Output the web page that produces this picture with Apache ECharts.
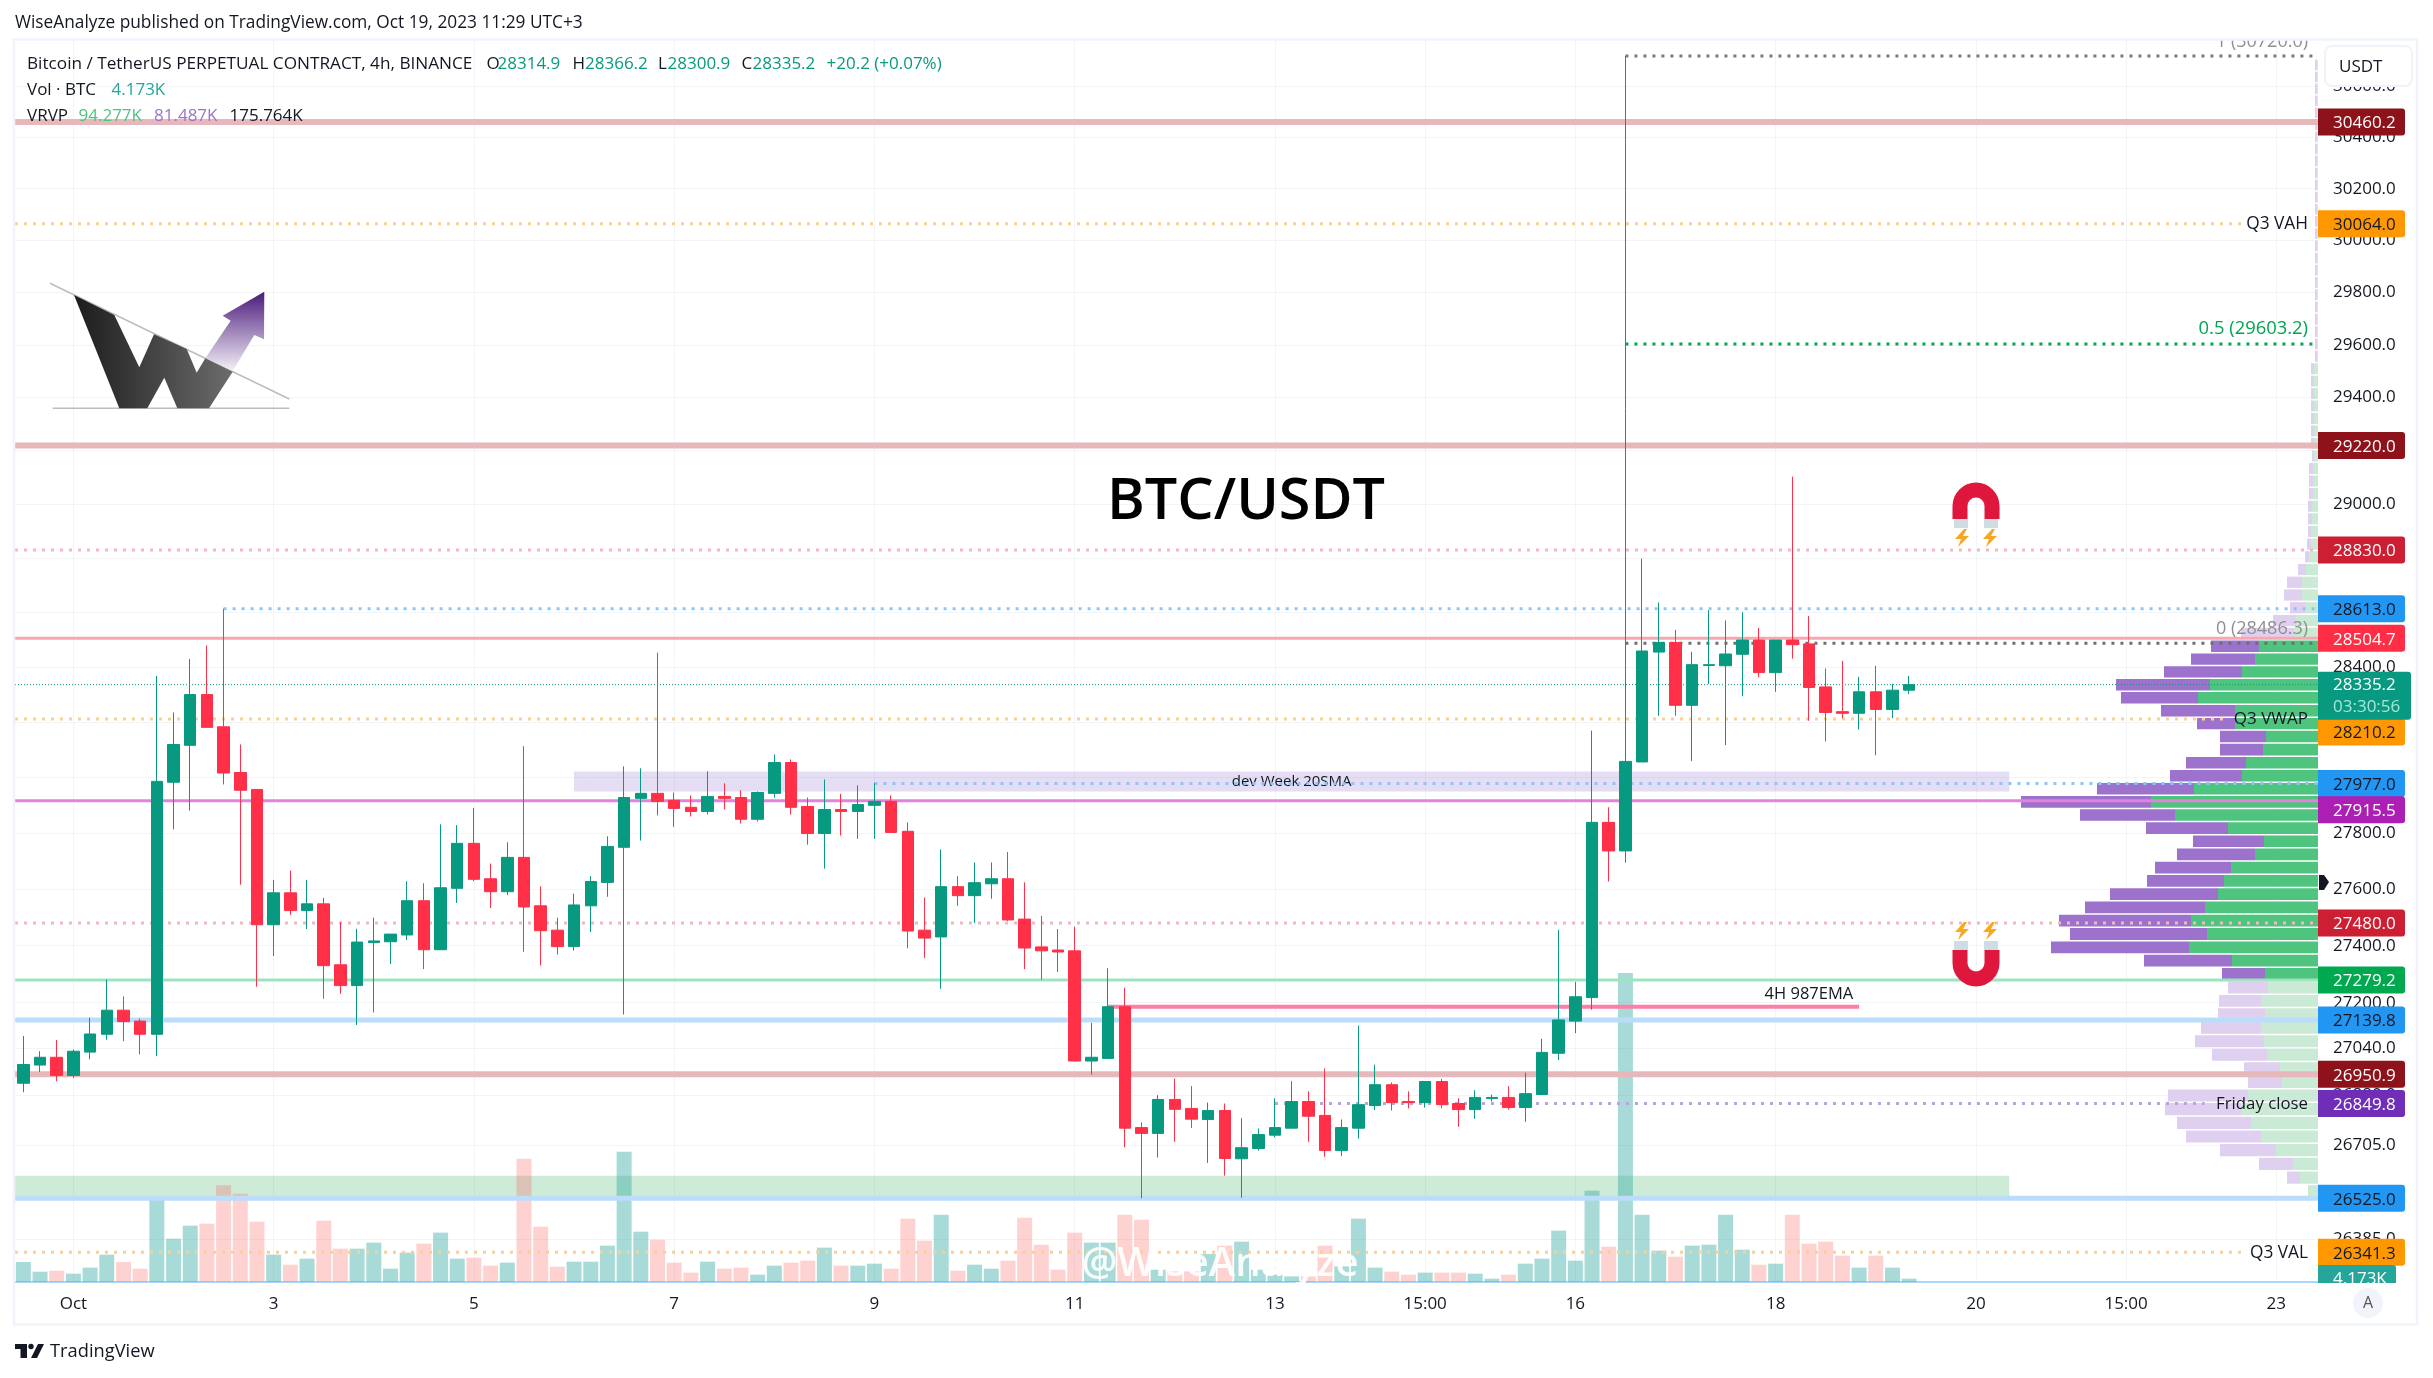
<!DOCTYPE html>
<html>
<head>
<meta charset="utf-8">
<title>BTC/USDT 4h</title>
<style>html,body{margin:0;padding:0;background:#fff}#chart{width:2433px;height:1378px}</style>
<script src="https://cdn.jsdelivr.net/npm/echarts@6/dist/echarts.min.js"></script>
</head>
<body>
<div id="chart"></div>
<script>
// 4h candles, index 0 is 30 Sep 12:00
const candleOpen = [
26920,26983,27010,26947,27028,27090,27174,27136,27090,27982,
28115,28299,28182,28017,27956,27474,27587,27524,27548,27333,
27260,27411,27414,27438,27559,27386,27603,27763,27637,27591,
27713,27541,27455,27397,27541,27624,27749,27924,27942,27917,
27892,27877,27931,27927,27849,27942,28053,27895,27798,27884,
27877,27899,27913,27806,27455,27431,27609,27577,27619,27637,
27494,27396,27385,27382,26997,27006,27186,26767,26747,26864,
26833,26795,26826,26660,26695,26741,26765,26857,26809,26688,
26765,26843,26915,26857,26853,26926,26850,26829,26867,26871,
26836,26881,27024,27136,27218,27838,27736,28055,28454,28489,
28260,28405,28404,28446,28498,28379,28498,28484,28327,28237,
28231,28309,28245,28314.9];
const candleClose = [
26985,27010,26947,27031,27091,27174,27134,27090,27985,28118,
28299,28180,28015,27953,27474,27587,27524,27548,27330,27260,
27413,27417,27441,27559,27386,27605,27763,27635,27591,27713,
27537,27453,27397,27544,27627,27752,27927,27942,27913,27888,
27877,27931,27924,27849,27945,28053,27892,27798,27884,27877,
27902,27913,27802,27452,27427,27609,27577,27623,27637,27491,
27392,27382,27378,26997,27010,27186,26765,26747,26864,26830,
26796,26826,26661,26698,26743,26767,26857,26806,26688,26767,
26846,26915,26853,26853,26926,26846,26829,26871,26871,26836,
26884,27027,27140,27221,27838,27736,28057,28458,28489,28260,
28408,28408,28447,28498,28379,28498,28481,28325,28234,28231,
28309,28245,28315,28335.2];
const candleLow = [
26889,26959,26927,26939,27003,27071,27066,27020,27014,27813,
27880,28180,27974,27616,27256,27364,27509,27459,27214,27231,
27122,27166,27336,27420,27318,27386,27551,27628,27533,27579,
27379,27331,27369,27383,27448,27573,27159,27773,27863,27822,
27859,27866,27884,27834,27841,27927,27866,27758,27673,27791,
27779,27779,27802,27391,27357,27249,27541,27480,27566,27487,
27318,27280,27308,26997,26950,27006,26699,26525,26664,26718,
26766,26646,26602,26527,26688,26733,26765,26718,26667,26669,
26729,26827,26826,26833,26836,26833,26770,26797,26857,26829,
26787,26881,27000,27094,27176,27627,27694,28055,28222,28222,
28058,28338,28116,28293,28362,28309,28430,28204,28129,28213,
28172,28079,28214,28300.9];
const candleHigh = [
27084,27031,27070,27037,27148,27281,27222,27145,28367,28234,
28429,28478,28613,28118,27956,27633,27666,27633,27569,27483,
27460,27499,27441,27628,27621,27831,27828,27890,27691,27767,
28112,27610,27499,27584,27646,27788,28039,28032,28452,27945,
27935,28021,27978,27953,27949,28082,28064,27927,27992,27940,
27971,27979,27935,27838,27570,27741,27646,27695,27695,27732,
27624,27506,27459,27467,27130,27321,27253,26785,26879,26936,
26910,26853,26850,26799,26764,26868,26927,26892,26971,26795,
27120,26984,26923,26892,26926,26935,26868,26896,26881,26910,
26957,27074,27456,27273,28168,27892,30720,28798,28636,28535,
28455,28608,28570,28600,28543,28498,29103,28586,28394,28422,
28364,28404,28338,28366.2];

// Volume per candle, thousands of BTC
const volumes = [
25.2,13.0,14.3,10.5,18.1,34.4,25.2,16.8,103.7,54.6,
71.0,73.5,121.8,111.3,76.0,34.4,21.8,29.4,77.3,42.0,
42.0,49.6,16.8,37.0,48.3,62.2,29.4,30.7,20.6,24.4,
155.4,69.7,19.3,25.6,25.6,45.8,164.2,63.4,53.3,24.4,
11.8,25.6,16.8,18.1,9.2,20.6,24.4,26.9,43.3,20.6,
20.6,23.1,16.8,79.8,52.1,84.8,14.3,21.8,16.8,26.9,
81.1,47.0,15.5,62.2,49.6,49.6,84.8,78.5,15.5,13.4,
13.4,35.3,45.8,50.8,15.5,9.2,7.1,7.1,45.8,19.7,
79.8,18.1,13.0,9.2,11.8,11.8,11.8,10.5,4.2,9.2,
23.1,29.4,64.7,26.9,115.1,44.5,389.3,84.8,39.5,31.9,
45.8,47.0,84.8,40.7,21.8,23.1,84.8,48.3,50.8,33.2,
18.1,33.2,18.1,4.173];

// Axis tick values
const timeTicks = {3:'Oct',15:'3',27:'5',39:'7',51:'9',63:'11',75:'13',84:'15:00',93:'16',105:'18',117:'20',126:'15:00',135:'23'};
const categoryCount = 138;
const priceTicks = [30600,30400,30200,30000,29800,29600,29400,29200,29000,28800,28600,28400,28200,28000,27800,27600,27400,27200,27040,26880,26705,26525,26385];

// Visible-range volume profile, one row per price step from the low upward
const profileBase = 26525;
const profileStep = 47;
const valueAreaRows = [16, 41];
const profileUp = [10,18,25,42,57,67,77,70,36,38,51,54,57,53,57,50,53,86,129,111,127,113,100,94,87,63,54,90,143,167,124,76,72,55,52,83,83,120,108,76,63,59,24,22,13,16,16,12,9,7,
7,6,6,5,5,5,4,4,4,4,4,4,4,4,
.5,.5,.5,.5,.5,.5,.5,.5,.5,.5,.5,.5,.5,.5,.5,.5,.5,.5,.5,.5,.5,.5,.5,.5,.5];
const profileDown = [0,13,34,56,75,74,76,80,34,36,55,69,60,47,42,40,43,88,138,137,132,120,108,77,76,78,71,82,95,130,97,72,60,43,46,38,74,77,94,78,64,48,53,23,15,18,15,8,4,4,
3,4,4,4,4,4,2,3,3,3,3,3,3,3,
2.5,2.5,2.5,2.5,2.5,2.5,2.5,2.5,2.5,2.5,2.5,2.5,2.5,2.5,2.5,2.5,2.5,2.5,2.5,2.5,2.5,2.5,2.5,2.5,2.5];

// Drawn levels
const levelPrices = [30720.0,30460.2,30064.0,29603.2,29220.0,28830.0,28613.0,28504.7,28486.3,28335.2,28210.2,27977.0,27915.5,27480.0,27279.2,27186.0,27139.8,26950.9,26849.8,26525.0,26341.3];
const levelNotes = ['1 (30720.0)','', 'Q3 VAH','0.5 (29603.2)','','','','','0 (28486.3)','','Q3 VWAP','','','','','4H 987EMA','','','Friday close','','Q3 VAL'];
const currentPrice = 28335.2;
const countdown = '03:30:56';
const lastVolume = 4.173;
const zoneLows = [27949, 26528];
const zoneHighs = [28021, 26602];
const zoneNotes = ['dev Week 20SMA',''];
const zoneFrom = [33, null];
const zoneTo = [119, 119];

const FONT = '"Open Sans", "DejaVu Sans", sans-serif';
const UP = '#089981', DOWN = '#FF3047';
const dots = [3, 6];
const levelStyles = [
  {w:3, dash:dots, color:'#7a7a7a', from:96, noteColor:'#8f8f8f', noteDy:-15, noteSize:18},
  {w:6, color:'#E6B8BC', tag:'#8E1219', tagText:'#fff'},
  {w:3, dash:dots, color:'#FBD08F', to:132.9, tag:'#FF9800', tagText:'#131722', noteColor:'#131722', noteDy:0, noteSize:17.3},
  {w:3, dash:dots, color:'#00A651', from:96, noteColor:'#00A651', noteDy:-16, noteSize:18.4},
  {w:6, color:'#E6B8BC', tag:'#8E1219', tagText:'#fff'},
  {w:3, dash:dots, color:'#F2B8BE', tag:'#CC1F33', tagText:'#fff'},
  {w:3, dash:dots, color:'#8CC6F7', from:12, tag:'#2196F3', tagText:'#131722'},
  {w:3, color:'#F9A6AE', tag:'#FF2E45', tagText:'#fff'},
  {w:3, dash:dots, color:'#6f6f6f', from:96, noteColor:'#8f8f8f', noteDy:-15, noteSize:18},
  {w:1, dash:[1,2], color:UP},
  {w:3, dash:dots, color:'#FBD08F', to:131.8, tag:'#FF9800', tagText:'#131722', noteColor:'#131722', noteDy:0, noteSize:17, tagDy:13},
  {w:3, dash:dots, color:'#8CC6F7', from:51, tag:'#2196F3', tagText:'#131722'},
  {w:3, color:'#E183DC', tag:'#AB1FB5', tagText:'#fff', tagDy:9},
  {w:3, dash:dots, color:'#F2B8BE', tag:'#CC1F33', tagText:'#fff'},
  {w:3, color:'#9CE3BE', tag:'#00A84F', tagText:'#fff'},
  {w:4, color:'#FF7EA6', from:65, to:110, noteColor:'#131722', noteDy:-13, noteAt:109.65, noteSize:16.5},
  {w:5, color:'#BBDDFB', tag:'#2196F3', tagText:'#131722'},
  {w:6, color:'#E6B8BC', tag:'#8E1219', tagText:'#fff'},
  {w:3, dash:dots, color:'#BBA3DE', from:75, to:130.7, tag:'#6F2DB8', tagText:'#fff', noteColor:'#131722', noteDy:0, noteSize:16.8},
  {w:5, color:'#BBDDFB', tag:'#2196F3', tagText:'#131722'},
  {w:3, dash:dots, color:'#FBD08F', to:133, tag:'#FF9800', tagText:'#131722', noteColor:'#131722', noteDy:0, noteSize:17.3}
];
const zoneColors = ['rgba(126,87,194,.2)', 'rgba(56,176,96,.25)'];

const categories = Array.from({length: categoryCount}, (_, i) => timeTicks[i] || '');
const candleData = candleOpen.map((o, i) => [o, candleClose[i], candleLow[i], candleHigh[i]]);
const volumeData = volumes.map((v, i) => ({
  value: v,
  itemStyle: {color: candleClose[i] >= candleOpen[i] ? 'rgba(38,166,154,.4)' : 'rgba(255,82,82,.26)'}
}));

function indexToX(cs, idx) {
  const band = cs.width / categoryCount;
  return cs.x + (idx + 0.5) * band;
}

function renderLevel(params, api) {
  const i = params.dataIndex, s = levelStyles[i], cs = params.coordSys;
  const y = api.coord([0, levelPrices[i]])[1];
  const x1 = s.from == null ? cs.x : indexToX(cs, s.from);
  const x2 = s.to == null ? cs.x + cs.width : indexToX(cs, s.to);
  const children = [{
    type: 'line',
    shape: {x1, y1: y, x2, y2: y},
    style: {stroke: s.color, lineWidth: s.w, lineDash: s.dash || null, fill: null}
  }];
  if (levelNotes[i]) {
    const xr = s.noteAt != null ? indexToX(cs, s.noteAt) : cs.x + cs.width - 10;
    children.push({
      type: 'text',
      style: {text: levelNotes[i], x: xr, y: y + s.noteDy + 0.5, fill: s.noteColor, font: s.noteSize + 'px ' + FONT, align: 'right', verticalAlign: 'middle'}
    });
  }
  return {type: 'group', children};
}

function renderTag(params, api) {
  const i = params.dataIndex, s = levelStyles[i], cs = params.coordSys;
  if (!s.tag) return null;
  const y = api.coord([0, levelPrices[i]])[1] + (s.tagDy || 0);
  const x = cs.x + cs.width;
  return {type: 'group', children: [
    {type: 'rect', shape: {x, y: y - 13.5, width: 87, height: 27, r: [0, 3, 3, 0]}, style: {fill: s.tag}},
    {type: 'text', style: {text: levelPrices[i].toFixed(1), x: x + 15, y: y + 1.5, fill: s.tagText, font: '17px ' + FONT, align: 'left', verticalAlign: 'middle'}}
  ]};
}

function renderCurrentTag(params, api) {
  const cs = params.coordSys;
  const y = api.coord([0, currentPrice])[1];
  const x = cs.x + cs.width;
  return {type: 'group', children: [
    {type: 'rect', shape: {x, y: y - 13, width: 93, height: 48, r: [0, 3, 3, 0]}, style: {fill: UP}},
    {type: 'text', style: {text: currentPrice.toFixed(1), x: x + 15, y: y + 1, fill: '#fff', font: '17px ' + FONT, align: 'left', verticalAlign: 'middle'}},
    {type: 'text', style: {text: countdown, x: x + 15, y: y + 23, fill: '#A6E6D8', font: '17px ' + FONT, align: 'left', verticalAlign: 'middle'}}
  ]};
}

function renderVolumeTag(params, api) {
  const cs = params.coordSys;
  const x = cs.x + cs.width;
  const y = cs.y + cs.height - 3;
  return {type: 'group', children: [
    {type: 'rect', shape: {x, y: y - 14, width: 78, height: 27, r: [0, 3, 3, 0]}, style: {fill: '#26A69A'}},
    {type: 'text', style: {text: lastVolume.toFixed(3) + 'K', x: x + 15, y: y, fill: '#fff', font: '17px ' + FONT, align: 'left', verticalAlign: 'middle'}}
  ]};
}

function renderZone(params, api) {
  const i = params.dataIndex, cs = params.coordSys;
  const top = api.coord([0, zoneHighs[i]])[1];
  const bottom = api.coord([0, zoneLows[i]])[1];
  const x1 = zoneFrom[i] == null ? cs.x : indexToX(cs, zoneFrom[i]);
  const x2 = indexToX(cs, zoneTo[i]);
  const children = [{type: 'rect', shape: {x: x1, y: top, width: x2 - x1, height: bottom - top}, style: {fill: zoneColors[i]}}];
  if (zoneNotes[i]) {
    children.push({type: 'text', style: {text: zoneNotes[i], x: (x1 + x2) / 2, y: (top + bottom) / 2, fill: '#131722', font: '15px ' + FONT, align: 'center', verticalAlign: 'middle'}});
  }
  return {type: 'group', children};
}

function renderProfile(params, api) {
  const r = params.dataIndex;
  const inArea = r >= valueAreaRows[0] && r <= valueAreaRows[1];
  const low = profileBase + r * profileStep, high = low + profileStep;
  const up = profileUp[r], down = profileDown[r];
  const a = api.coord([0, low]), b = api.coord([up, high]), c = api.coord([up + down, high]);
  const h = a[1] - b[1] - 1.5;
  const y = b[1] + 0.75;
  return {type: 'group', children: [
    {type: 'rect', shape: {x: b[0], y, width: a[0] - b[0], height: h}, style: {fill: inArea ? '#4FC47E' : '#CBEAD5'}},
    {type: 'rect', shape: {x: c[0], y, width: b[0] - c[0], height: h}, style: {fill: inArea ? '#9C72CC' : '#E0D0EF'}}
  ]};
}

// Header, logo, magnets and the frame are page furniture around the plot
function txt(x, y, text, fill, size, extra) {
  return {
    type: 'text', z: 120, silent: true,
    style: Object.assign({x, y, text, fill, font: size + 'px ' + FONT, align: 'left', verticalAlign: 'middle'}, extra || {})
  };
}
function poly(points, fill, z) {
  return {type: 'polygon', z: z || 120, silent: true, shape: {points}, style: {fill}};
}
function magnet(cx, cy, dir) {
  const up = dir < 0;
  const armEnd = cy + dir * 13, tipEnd = armEnd + dir * 9, boltY = tipEnd + dir * 10;
  const box = (x, y1, y2, w, fill) => ({type: 'rect', z: 120, silent: true, shape: {x, y: Math.min(y1, y2), width: w, height: Math.abs(y2 - y1)}, style: {fill}});
  const bolt = (x, y) => poly([[x + 2, y - 9], [x - 7, y + 1], [x - 1, y + 1], [x - 4, y + 9], [x + 7, y - 2], [x + 1, y - 2], [x + 5, y - 9]], '#F7A823');
  return [
    {type: 'sector', z: 120, silent: true, shape: {cx, cy, r: 23.5, r0: 8.5, startAngle: up ? 0 : Math.PI, endAngle: up ? Math.PI : Math.PI * 2}, style: {fill: '#E0173D'}},
    box(cx - 23.5, cy, armEnd, 15, '#E0173D'), box(cx + 8.5, cy, armEnd, 15, '#E0173D'),
    box(cx - 22, armEnd, tipEnd, 14, '#CEDCE3'), box(cx + 8, armEnd, tipEnd, 14, '#CEDCE3'),
    bolt(cx - 14, boltY), bolt(cx + 14, boltY)
  ];
}

const chart = echarts.init(document.getElementById('chart'), null, {renderer: 'canvas'});
const grid = {left: 15, top: 41, width: 2303, height: 1241};
const furniture = [
  {type: 'rect', z: 100, silent: true, shape: {x: 1900, y: 22, width: 430, height: 18}, style: {fill: '#fff'}},
  {type: 'rect', z: 100, silent: true, shape: {x: 2318, y: 1283, width: 99, height: 41}, style: {fill: '#fff'}},
  {type: 'rect', z: 101, silent: true, shape: {x: 14, y: 39.5, width: 2403, height: 1285}, style: {fill: null, stroke: '#F0F3FA', lineWidth: 2.5}},
  {type: 'rect', z: 110, silent: true, shape: {x: 2325, y: 46, width: 87, height: 40, r: 7}, style: {fill: '#fff', stroke: '#F0F3FA', lineWidth: 2}},
  txt(2339, 67, 'USDT', '#131722', 17),
  {type: 'circle', z: 110, silent: true, shape: {cx: 2368, cy: 1303, r: 15}, style: {fill: '#F0F3FA'}},
  txt(2368, 1303, 'A', '#555', 16, {align: 'center'}),
  poly([[2319, 875], [2324, 875], [2329, 882], [2324, 890], [2319, 890]], '#131722'),

  txt(15, 23, 'WiseAnalyze published on TradingView.com, Oct 19, 2023 11:29 UTC+3', '#131722', 17.3),
  txt(27, 64, 'Bitcoin / TetherUS PERPETUAL CONTRACT, 4h, BINANCE', '#131722', 17.2),
  txt(486.5, 64, 'O', '#131722', 17), txt(497.5, 64, '28314.9', UP, 17),
  txt(572.5, 64, 'H', '#131722', 17), txt(585, 64, '28366.2', UP, 17),
  txt(658, 64, 'L', '#131722', 17), txt(667.5, 64, '28300.9', UP, 17),
  txt(741.5, 64, 'C', '#131722', 17), txt(752.5, 64, '28335.2', UP, 17),
  txt(826.5, 64, '+20.2 (+0.07%)', UP, 17),
  txt(27, 90, 'Vol · BTC', '#131722', 17), txt(111.5, 90, '4.173K', '#26A69A', 17),
  txt(27, 116.5, 'VRVP', '#131722', 17), txt(78.5, 116.5, '94.277K', '#4FC47E', 17),
  txt(154, 116.5, '81.487K', '#9C72CC', 17), txt(229.5, 116.5, '175.764K', '#131722', 17),

  txt(1246, 503, 'BTC/USDT', '#000', 57.5, {align: 'center', font: '600 57.5px ' + FONT}),
  txt(1220, 1265, '@WiseAnalyze', 'rgba(255,255,255,.92)', 40, {align: 'center', font: '600 40px ' + FONT}),

  // Logo
  {type: 'line', z: 120, silent: true, shape: {x1: 50, y1: 283.3, x2: 289.3, y2: 399}, style: {stroke: '#bdbdbd', lineWidth: 1.5}},
  {type: 'line', z: 120, silent: true, shape: {x1: 52.7, y1: 408.3, x2: 289.3, y2: 408.3}, style: {stroke: '#bdbdbd', lineWidth: 1.5}},
  {type: 'polygon', z: 121, silent: true,
    shape: {points: [[205.3,358.3],[230.7,320.7],[222.7,315.7],[264.3,291.7],[264,339.3],[254.3,335],[232.7,371]]},
    style: {fill: new echarts.graphic.LinearGradient(0, 0, 0, 1, [{offset: 0, color: '#4A1A7A'}, {offset: 1, color: '#F4F0F8'}])}},
  {type: 'polygon', z: 122, silent: true,
    shape: {points: [[74,295],[114.3,315],[139.3,367.3],[154,334.3],[186.7,349],[196.7,372.7],[205.3,358.3],[232.7,371.7],[209,408.3],[177.3,408.3],[164.3,377.7],[147.3,408.3],[119.3,408.3]]},
    style: {fill: new echarts.graphic.LinearGradient(0, 0, 1, 0, [{offset: 0, color: '#1c1c1c'}, {offset: 1, color: '#6c6c6c'}])}},

  // TradingView mark and wordmark
  {type: 'rect', z: 120, silent: true, shape: {x: 15, y: 1344, width: 12, height: 5}, style: {fill: '#131722'}},
  {type: 'rect', z: 120, silent: true, shape: {x: 20.5, y: 1344, width: 6.5, height: 14}, style: {fill: '#131722'}},
  {type: 'circle', z: 120, silent: true, shape: {cx: 31, cy: 1346.5, r: 2.7}, style: {fill: '#131722'}},
  poly([[38, 1344], [44, 1344], [37, 1358], [31, 1358]], '#131722'),
  txt(50, 1352, 'TradingView', '#131722', 18.3)
].concat(magnet(1976, 506, 1), magnet(1976, 963, -1));

chart.setOption({
  animation: false,
  backgroundColor: '#fff',
  textStyle: {fontFamily: FONT},
  grid,
  graphic: {elements: furniture},
  xAxis: [
    {
      type: 'category',
      data: categories,
      axisLine: {show: true, lineStyle: {color: '#90CAF9', width: 1.5}},
      axisTick: {show: false},
      axisLabel: {
        interval: (i, v) => v !== '',
        color: '#131722', fontSize: 17, fontFamily: FONT, margin: 14
      },
      splitLine: {show: true, alignWithLabel: true, interval: (i, v) => v !== '', lineStyle: {color: '#F2F4F8', width: 1}}
    },
    {type: 'value', show: false, inverse: true, min: 0, max: 2303, position: 'top', splitLine: {show: false}}
  ],
  yAxis: [
    {
      type: 'log',
      position: 'right',
      min: 26241,
      max: 30779,
      axisLine: {show: false},
      axisTick: {show: false, customValues: priceTicks},
      axisLabel: {customValues: priceTicks, formatter: v => Number(v).toFixed(1), color: '#131722', fontSize: 17, fontFamily: FONT, margin: 15, align: 'left', padding: [2, 0, 0, 0]},
      splitLine: {show: true, lineStyle: {color: '#F2F4F8', width: 1}}
    },
    {type: 'value', show: false, min: 0, max: 1563.7, splitLine: {show: false}}
  ],
  series: [
    {
      type: 'custom', name: 'Volume profile', xAxisIndex: 1, yAxisIndex: 0, z: 2, silent: true, clip: false,
      data: profileUp.map((u, r) => [u + profileDown[r], profileBase + r * profileStep]),
      encode: {x: 0, y: 1}, renderItem: renderProfile
    },
    {
      type: 'custom', name: 'Zones', xAxisIndex: 0, yAxisIndex: 0, z: 2, silent: true,
      data: zoneLows.map(p => [0, p]),
      encode: {x: 0, y: 1}, renderItem: renderZone
    },
    {
      type: 'bar', name: 'Vol', xAxisIndex: 0, yAxisIndex: 1, z: 3, silent: true,
      barWidth: 15, data: volumeData
    },
    {
      type: 'custom', name: 'Levels', xAxisIndex: 0, yAxisIndex: 0, z: 4, silent: true,
      data: levelPrices.map(p => [0, p]),
      encode: {x: 0, y: 1}, renderItem: renderLevel
    },
    {
      type: 'candlestick', name: 'BTCUSDT.P', xAxisIndex: 0, yAxisIndex: 0, z: 5, silent: true,
      barWidth: 12,
      data: candleData,
      itemStyle: {color: UP, color0: DOWN, borderColor: UP, borderColor0: DOWN, borderWidth: 1}
    },
    {
      type: 'custom', name: 'Price tags', xAxisIndex: 0, yAxisIndex: 0, z: 20, silent: true, clip: false,
      data: levelPrices.map(p => [0, p]),
      encode: {x: 0, y: 1}, renderItem: renderTag
    },
    {
      type: 'custom', name: 'Current price tag', xAxisIndex: 0, yAxisIndex: 0, z: 21, silent: true, clip: false,
      data: [[0, currentPrice]],
      encode: {x: 0, y: 1}, renderItem: renderCurrentTag
    },
    {
      type: 'custom', name: 'Volume tag', xAxisIndex: 0, yAxisIndex: 1, z: 21, silent: true, clip: false,
      data: [[113, lastVolume]],
      encode: {x: 0, y: 1}, renderItem: renderVolumeTag
    }
  ]
});
</script>
</body>
</html>
